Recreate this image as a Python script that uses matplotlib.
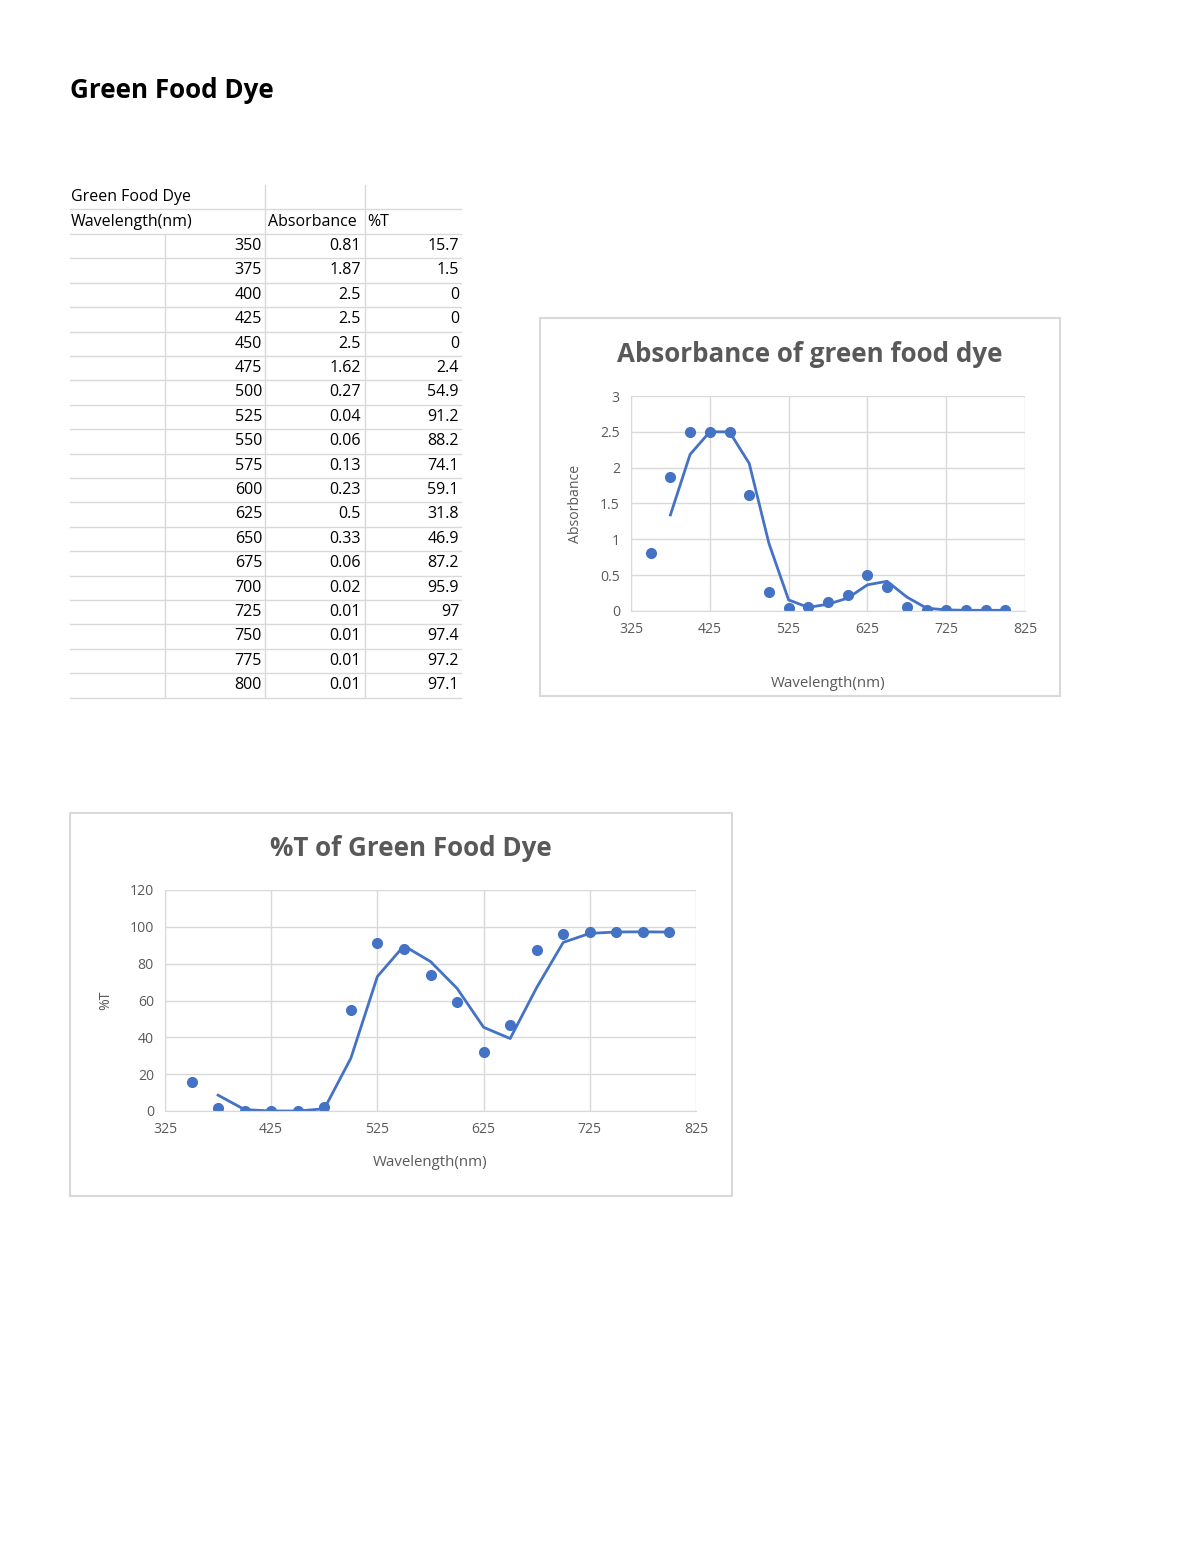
import numpy as np
import pandas as pd
import matplotlib
matplotlib.use("Agg")
import matplotlib.pyplot as plt
from matplotlib.patches import Rectangle

plt.rcParams["font.family"] = ["Open Sans", "DejaVu Sans"]

wavelength = [350, 375, 400, 425, 450, 475, 500, 525, 550, 575, 600, 625, 650, 675, 700, 725, 750, 775, 800]
absorbance = [0.81, 1.87, 2.5, 2.5, 2.5, 1.62, 0.27, 0.04, 0.06, 0.13, 0.23, 0.5, 0.33, 0.06, 0.02, 0.01, 0.01, 0.01, 0.01]
percent_t = [15.7, 1.5, 0, 0, 0, 2.4, 54.9, 91.2, 88.2, 74.1, 59.1, 31.8, 46.9, 87.2, 95.9, 97, 97.4, 97.2, 97.1]

W, H = 1200, 1553
BLUE = "#4472C4"
GRID = "#D9D9D9"
TXT = "#595959"

fig = plt.figure(figsize=(W / 100, H / 100), dpi=100)


def fx(x):
    return x / W


def fy(y):
    return 1 - y / H


def pt(px):
    return px * 72 / 100


def axes_px(x0, y0, x1, y1):
    return fig.add_axes([fx(x0), fy(y1), (x1 - x0) / W, (y1 - y0) / H])


# page title
fig.text(fx(70), fy(91), "Green Food Dye", fontsize=pt(26), fontweight="bold", va="center")

# table
row_y = [197, 222] + [246 + i * 24.4 for i in range(len(wavelength))]
fs = pt(16)
fig.text(fx(71), fy(row_y[0]), "Green Food Dye", fontsize=fs, va="center")
fig.text(fx(71), fy(row_y[1]), "Wavelength(nm)", fontsize=fs, va="center")
fig.text(fx(268), fy(row_y[1]), "Absorbance", fontsize=fs, va="center")
fig.text(fx(367), fy(row_y[1]), "%T", fontsize=fs, va="center")
for i, (w, a, t) in enumerate(zip(wavelength, absorbance, percent_t)):
    y = row_y[i + 2]
    fig.text(fx(262), fy(y), f"{w}", fontsize=fs, va="center", ha="right")
    fig.text(fx(361), fy(y), f"{a:g}", fontsize=fs, va="center", ha="right")
    fig.text(fx(459), fy(y), f"{t:g}", fontsize=fs, va="center", ha="right")
for y in [209] + [234 + i * 24.4 for i in range(len(wavelength) + 1)]:
    fig.add_artist(plt.Line2D([fx(70), fx(461)], [fy(y), fy(y)], color=GRID, lw=1))
for x in [165, 265, 365]:
    top = 185 if x != 165 else 234
    fig.add_artist(plt.Line2D([fx(x), fx(x)], [fy(top), fy(697)], color=GRID, lw=1))


def chart(box, area, y, ylim, yticks, title, ylabel, title_y, xlabel_y):
    bx0, by0, bx1, by1 = box
    fig.add_artist(Rectangle((fx(bx0), fy(by1)), (bx1 - bx0) / W, (by1 - by0) / H,
                             transform=fig.transFigure, fill=False, ec=GRID, lw=1.5))
    ax = axes_px(*area)
    trend = pd.Series(y).rolling(2).mean()
    ax.plot(wavelength, trend, color=BLUE, lw=2)
    ax.plot(wavelength, y, "o", color=BLUE, ms=7)
    ax.set_xlim(325, 825)
    ax.set_xticks(range(325, 826, 100))
    ax.set_ylim(*ylim)
    ax.set_yticks(yticks)
    ax.set_yticklabels([f"{v:g}" for v in yticks])
    ax.grid(True, color=GRID, lw=1)
    for s in ["top", "right"]:
        ax.spines[s].set_visible(False)
    ax.spines["left"].set_color(GRID)
    ax.spines["bottom"].set_color(GRID)
    ax.tick_params(length=0, labelsize=pt(14), labelcolor=TXT, pad=8)
    ax.set_axisbelow(True)
    fig.text(fx((bx0 + bx1) / 2 + 10), fy(title_y), title, fontsize=pt(26), fontweight="bold",
             color=TXT, ha="center", va="center")
    fig.text(fx((area[0] + area[2]) / 2), fy(xlabel_y), "Wavelength(nm)", fontsize=pt(15),
             color=TXT, ha="center", va="center")
    ax.set_ylabel(ylabel, fontsize=pt(14), color=TXT, labelpad=12)
    return ax


chart((540, 318, 1060, 696), (631, 396, 1025, 611), absorbance, (0, 3),
      [0, 0.5, 1, 1.5, 2, 2.5, 3], "Absorbance of green food dye", "Absorbance", 355, 683)
chart((70, 813, 732, 1196), (165, 890, 696, 1111), percent_t, (0, 120),
      list(range(0, 121, 20)), "%T of Green Food Dye", "%T", 849, 1162)

fig.savefig("out.png", dpi=100)
